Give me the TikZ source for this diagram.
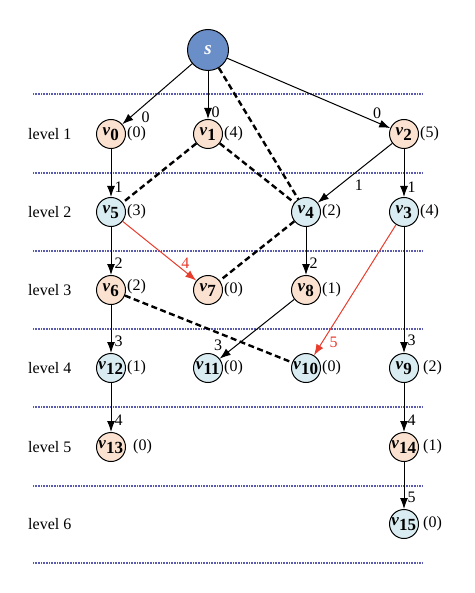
\documentclass[tikz,border=0pt]{standalone}
\usepackage{fontspec}
\setmainfont{Liberation Serif}
\usetikzlibrary{arrows.meta,positioning}
\definecolor{sblue}{RGB}{106,143,200}
\definecolor{warmfill}{RGB}{251,226,208}
\definecolor{coolfill}{RGB}{216,236,242}
\definecolor{dotblue}{RGB}{90,90,175}
\definecolor{redline}{RGB}{232,60,45}
\newcommand{\vsub}[1]{\textbf{\textit{v}}$_{\textbf{#1}}$}
\tikzset{
  vtx/.style={circle, draw, line width=1pt, minimum size=29pt, inner sep=0pt,
    font=\fontsize{17}{17}\selectfont},
  warmv/.style={vtx, fill=warmfill},
  coolv/.style={vtx, fill=coolfill},
  wt/.style={font=\fontsize{16}{16}\selectfont, inner sep=1pt, label distance=0pt},
  elbl/.style={font=\fontsize{16}{16}\selectfont, inner sep=3pt},
  arr/.style={-{Latex[length=11pt,width=8pt]}, line width=1pt},
  dsh/.style={line width=2.4pt, dash pattern=on 6pt off 3.5pt},
  lvl/.style={draw=dotblue, line width=1.3pt, dash pattern=on 0.9pt off 0.7pt},
  lvltext/.style={anchor=west, font=\fontsize{16}{16}\selectfont, inner sep=0pt}
}
\begin{document}
\begin{tikzpicture}[x=1pt,y=-1pt]
  \useasboundingbox (0,0) rectangle (474,593);
  % level separators
  \foreach \y in {94,173,251,329,407,486,563}
    \draw[lvl] (33,\y) -- (423,\y);
  \foreach \i/\y in {1/134,2/212,3/290,4/368,5/447,6/524}
    \node[lvltext] (level\i) at (28,\y) {level \i};
  % vertices
  \node[vtx, fill=sblue, minimum size=41pt, text=white, font=\fontsize{19}{19}\selectfont] (s) at (208,50) {\textbf{\textit{s}}};
  \node[warmv, label={[wt]right:(0)}] (v0) at (111,134) {\vsub{0}};
  \node[warmv, label={[wt]right:(4)}] (v1) at (208,134) {\vsub{1}};
  \node[warmv, label={[wt]right:(5)}] (v2) at (404,134) {\vsub{2}};
  \node[coolv, label={[wt]right:(3)}] (v5) at (111,212) {\vsub{5}};
  \node[coolv, label={[wt]right:(2)}] (v4) at (306,212) {\vsub{4}};
  \node[coolv, label={[wt]right:(4)}] (v3) at (404,212) {\vsub{3}};
  \node[warmv, label={[wt, yshift=3pt]right:(2)}] (v6) at (111,290) {\vsub{6}};
  \node[warmv, label={[wt]right:(0)}] (v7) at (208,290) {\vsub{7}};
  \node[warmv, label={[wt]right:(1)}] (v8) at (306,290) {\vsub{8}};
  \node[coolv, label={[wt]right:(1)}] (v12) at (111,368) {\vsub{12}};
  \node[coolv, label={[wt]right:(0)}] (v11) at (208,368) {\vsub{11}};
  \node[coolv, label={[wt]right:(0)}] (v10) at (306,368) {\vsub{10}};
  \node[coolv, label={[wt, xshift=3pt]right:(2)}] (v9) at (404,368) {\vsub{9}};
  \node[warmv, label={[wt, xshift=6pt]right:(0)}] (v13) at (111,447) {\vsub{13}};
  \node[warmv, label={[wt, xshift=3pt]right:(1)}] (v14) at (404,447) {\vsub{14}};
  \node[coolv, label={[wt, xshift=3pt]right:(0)}] (v15) at (404,524) {\vsub{15}};
  % tree edges
  \draw[arr] (s) -- node[elbl, pos=0.89, right=8pt] {0} (v0);
  \draw[arr] (s) -- node[elbl, pos=0.85, right] {0} (v1);
  \draw[arr] (s) -- node[elbl, pos=0.92, above] {0} (v2);
  \draw[arr] (v0) -- node[elbl, pos=0.8, right] {1} (v5);
  \draw[arr] (v2) -- node[elbl, pos=0.55, below right] {1} (v4);
  \draw[arr] (v2) -- node[elbl, pos=0.8, right] {1} (v3);
  \draw[arr] (v5) -- node[elbl, pos=0.75, right] {2} (v6);
  \draw[arr] (v4) -- node[elbl, pos=0.75, right] {2} (v8);
  \draw[arr] (v6) -- node[elbl, pos=0.75, right] {3} (v12);
  \draw[arr] (v8) -- node[elbl, pos=0.92, above left] {3} (v11);
  \draw[arr] (v3) -- node[elbl, pos=0.9, right] {3} (v9);
  \draw[arr] (v12) -- node[elbl, pos=0.75, right] {4} (v13);
  \draw[arr] (v9) -- node[elbl, pos=0.75, right] {4} (v14);
  \draw[arr] (v14) -- node[elbl, pos=0.75, right] {5} (v15);
  % red edges
  \draw[arr, redline] (v5) -- node[elbl, pos=0.85, above] {4} (v7);
  \draw[arr, redline] (v3) -- node[elbl, pos=0.9, right=4pt] {5} (v10);
  % dashed edges
  \draw[dsh] (s) -- (v4);
  \draw[dsh] (v1) -- (v5);
  \draw[dsh] (v1) -- (v4);
  \draw[dsh] (v4) -- (v7);
  \draw[dsh] (v6) -- (v10);
\end{tikzpicture}
\end{document}
